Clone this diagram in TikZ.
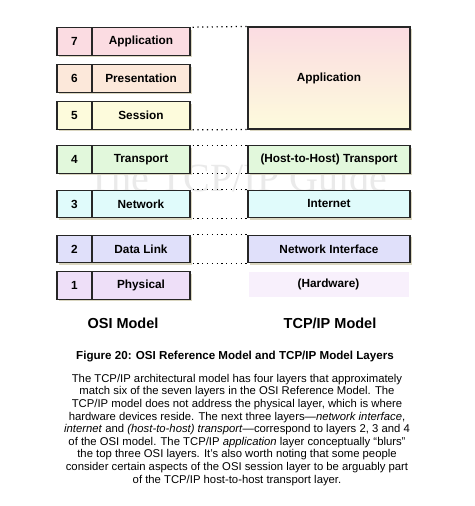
\documentclass[tikz,border=0pt]{standalone}
\usepackage{fontspec}
\setmainfont{Liberation Sans}
\newfontfamily\wmfont{Liberation Serif}
\usetikzlibrary{shadows}
\definecolor{cseven}{HTML}{FBDCE2}
\definecolor{csix}{HTML}{FCE8DA}
\definecolor{cfive}{HTML}{FDFBDC}
\definecolor{cfour}{HTML}{E2F8DC}
\definecolor{cthree}{HTML}{E0FBFB}
\definecolor{ctwo}{HTML}{E0E0FA}
\definecolor{cone}{HTML}{EEDFF8}
\definecolor{chw}{HTML}{F8F0FC}
\definecolor{cshadow}{HTML}{DAD6C0}
\definecolor{cwm}{HTML}{EAEAEA}
\begin{document}
\begin{tikzpicture}[x=1pt,y=1pt,
  cell/.style={draw=black!85, line width=1.1pt, minimum height=27.5pt, inner sep=0pt,
    font=\bfseries\fontsize{11.8}{13}\selectfont,
    drop shadow={shadow xshift=2.2pt, shadow yshift=-2.2pt, fill=cshadow, opacity=1}},
  numcell/.style={cell, minimum width=35pt},
  labcell/.style={cell, minimum width=98pt},
  tcpcell/.style={cell, minimum width=162pt},
  dotline/.style={line width=1.2pt, dash pattern=on 1.2pt off 3.6pt, shorten <=2pt},
  title/.style={font=\bfseries\fontsize{14.5}{16}\selectfont}
]
\useasboundingbox (0,0) rectangle (474,506);
\fill[white] (0,0) rectangle (474,506);

% watermark
\node[text=cwm, font=\wmfont\fontsize{40}{44}\selectfont, inner sep=0pt] (wm) at (237,506-178) {The TCP/IP Guide};

% OSI model rows
\node[numcell, fill=cseven] (n7) at (74.5,506-41.5) {7};
\node[labcell, fill=cseven] (l7) at (141,506-41.5) {Application};
\node[numcell, fill=csix] (n6) at (74.5,506-78.5) {6};
\node[labcell, fill=csix] (l6) at (141,506-78.5) {Presentation};
\node[numcell, fill=cfive] (n5) at (74.5,506-115.5) {5};
\node[labcell, fill=cfive] (l5) at (141,506-115.5) {Session};
\node[numcell, fill=cfour] (n4) at (74.5,506-159.5) {4};
\node[labcell, fill=cfour] (l4) at (141,506-159.5) {Transport};
\node[numcell, fill=cthree] (n3) at (74.5,506-204) {3};
\node[labcell, fill=cthree] (l3) at (141,506-204) {Network};
\node[numcell, fill=ctwo] (n2) at (74.5,506-249) {2};
\node[labcell, fill=ctwo] (l2) at (141,506-249) {Data Link};
\node[numcell, fill=cone] (n1) at (74.5,506-285.5) {1};
\node[labcell, fill=cone] (l1) at (141,506-285.5) {Physical};

% TCP/IP model
\node[tcpcell, minimum height=102pt, top color=cseven, bottom color=cfive] (tapp) at (329,506-78) {Application};
\node[tcpcell, fill=cfour] (ttr) at (329,506-159.5) {(Host-to-Host) Transport};
\node[tcpcell, fill=cthree] (tin) at (329,506-204) {Internet};
\node[tcpcell, fill=ctwo] (tni) at (329,506-249) {Network Interface};
\node[minimum width=160pt, minimum height=25pt, inner sep=0pt, fill=chw,
  font=\bfseries\fontsize{11.8}{13}\selectfont] (thw) at (328.5,506-284.5) {(Hardware)};

% dotted correspondences
\draw[dotline] (l7.north east) -- (tapp.north west);
\draw[dotline] (l5.south east) -- (tapp.south west);
\draw[dotline] (l4.north east) -- (ttr.north west);
\draw[dotline] (l4.south east) -- (ttr.south west);
\draw[dotline] (l3.north east) -- (tin.north west);
\draw[dotline] (l3.south east) -- (tin.south west);
\draw[dotline] (l2.north east) -- (tni.north west);
\draw[dotline] (l2.south east) -- (tni.south west);

% titles
\node[title] (osit) at (123,506-323) {OSI Model};
\node[title] (tcpt) at (330,506-323) {TCP/IP Model};
\node[font=\bfseries\fontsize{11.6}{13}\selectfont] (cap) at (235,506-357) {Figure 20: OSI Reference Model and TCP/IP Model Layers};

% description
\node[anchor=north, inner sep=0pt, align=center, font=\fontsize{11.3}{12.6}\selectfont] (desc) at (237,506-374)
{The TCP/IP architectural model has four layers that approximately\\
match six of the seven layers in the OSI Reference Model. The\\
TCP/IP model does not address the physical layer, which is where\\
hardware devices reside. The next three layers—\textit{network interface},\\
\textit{internet} and \textit{(host-to-host) transport}—correspond to layers 2, 3 and 4\\
of the OSI model. The TCP/IP \textit{application} layer conceptually “blurs”\\
the top three OSI layers. It’s also worth noting that some people\\
consider certain aspects of the OSI session layer to be arguably part\\
of the TCP/IP host-to-host transport layer.};
\end{tikzpicture}
\end{document}
